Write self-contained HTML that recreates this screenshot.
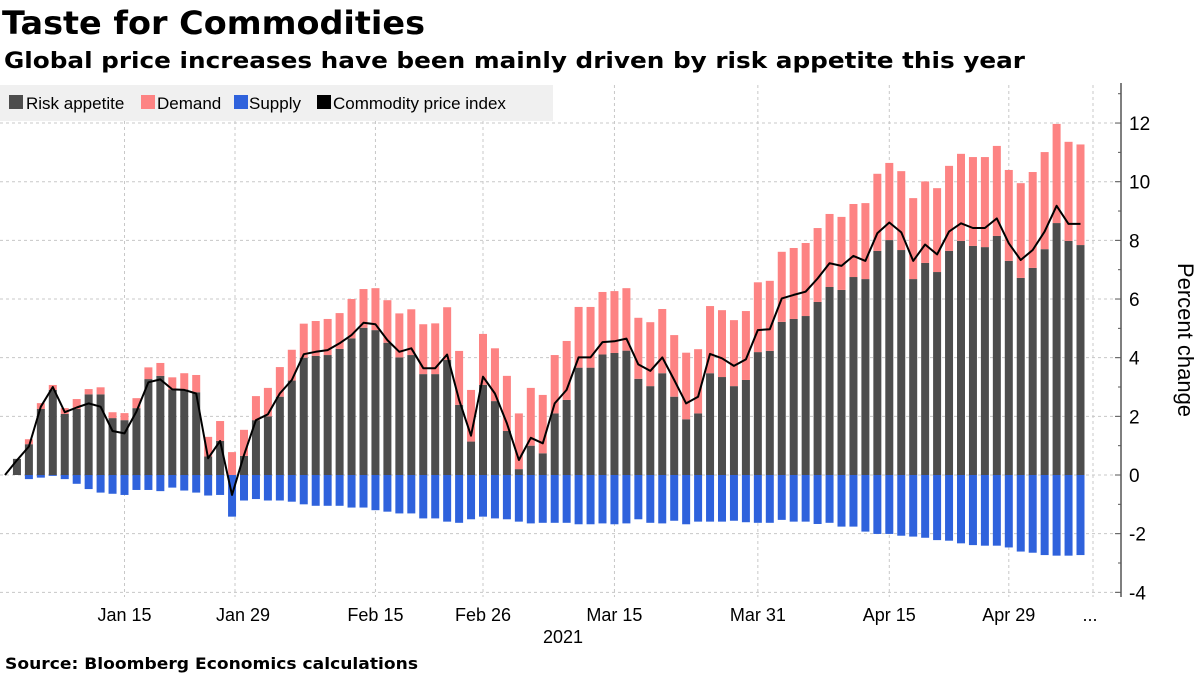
<!DOCTYPE html>
<html><head><meta charset="utf-8"><style>
html,body{margin:0;padding:0;background:#fff;width:1200px;height:675px;overflow:hidden}
svg{display:block}
</style></head><body>
<svg id="chart" width="1200" height="675" xmlns="http://www.w3.org/2000/svg">
<text x="2" y="34" font-family="DejaVu Sans, sans-serif" font-weight="bold" font-size="32" textLength="423" lengthAdjust="spacingAndGlyphs">Taste for Commodities</text>
<text x="4" y="68" font-family="DejaVu Sans, sans-serif" font-weight="bold" font-size="22" textLength="1021" lengthAdjust="spacingAndGlyphs">Global price increases have been mainly driven by risk appetite this year</text>
<g id="grid"></g>
<g id="bars"></g>
<g id="line"></g>
<g id="axes"></g>
<g>
<rect x="0" y="85" width="553" height="36" fill="#f0f0f0"/>
<g><rect x="9" y="95" width="14" height="14" fill="#4d4d4d"/><text x="26" y="109" font-family="Liberation Sans, sans-serif" font-size="17">Risk appetite</text></g>
<g><rect x="141" y="95" width="14" height="14" fill="#fd8383"/><text x="157" y="109" font-family="Liberation Sans, sans-serif" font-size="17">Demand</text></g>
<g><rect x="234" y="95" width="14" height="14" fill="#2f62dc"/><text x="249" y="109" font-family="Liberation Sans, sans-serif" font-size="17">Supply</text></g>
<g><rect x="317" y="95" width="14" height="14" fill="#000"/><text x="333" y="109" font-family="Liberation Sans, sans-serif" font-size="17">Commodity price index</text></g>
</g>
<text x="1178" y="340" font-family="Liberation Sans, sans-serif" font-size="22" transform="rotate(90 1178 340)" text-anchor="middle">Percent change</text>
<text x="5" y="669" font-family="DejaVu Sans, sans-serif" font-weight="bold" font-size="16" textLength="413" lengthAdjust="spacingAndGlyphs">Source: Bloomberg Economics calculations</text>
</svg>
<script>
const risk=[0,0.55,1.05,2.25,2.9,2.08,2.25,2.75,2.75,1.94,1.87,2.28,3.27,3.38,2.92,2.92,2.82,0.63,1.16,0,0.65,1.87,2.0,2.67,3.22,4.0,4.06,4.09,4.3,4.66,5.02,4.94,4.51,4.01,4.09,3.44,3.44,3.92,2.39,1.14,3.07,2.52,1.5,0.2,1.0,0.74,2.1,2.56,3.66,3.66,4.11,4.16,4.24,3.28,3.03,3.47,2.67,1.9,2.1,3.47,3.34,3.03,3.24,4.19,4.23,5.22,5.32,5.42,5.9,6.41,6.31,6.75,6.68,7.64,8.01,7.67,6.68,7.23,6.92,7.64,7.98,7.81,7.77,8.15,7.3,6.72,7.06,7.7,8.59,7.98,7.84];
const demand=[0,0,0.17,0.2,0.17,0.2,0.34,0.18,0.24,0.2,0.24,0.34,0.4,0.44,0.41,0.55,0.59,0.67,0.68,0.78,0.89,0.82,0.97,1.01,1.05,1.16,1.19,1.23,1.22,1.34,1.32,1.43,1.45,1.5,1.56,1.7,1.73,1.8,1.84,1.76,1.74,1.8,1.88,1.9,1.97,1.99,1.99,2.01,2.07,2.07,2.13,2.11,2.13,2.08,2.18,2.19,2.1,2.27,2.19,2.29,2.28,2.25,2.35,2.38,2.39,2.39,2.42,2.49,2.52,2.49,2.49,2.49,2.59,2.63,2.63,2.69,2.76,2.78,2.86,2.9,2.97,3.03,3.07,3.07,3.1,3.23,3.27,3.31,3.38,3.38,3.43];
const supply=[0,0,-0.14,-0.09,-0.03,-0.14,-0.3,-0.48,-0.6,-0.64,-0.68,-0.51,-0.51,-0.55,-0.43,-0.53,-0.6,-0.7,-0.68,-1.42,-0.87,-0.82,-0.87,-0.87,-0.91,-1.0,-1.05,-1.05,-1.05,-1.11,-1.11,-1.2,-1.25,-1.31,-1.31,-1.48,-1.48,-1.59,-1.63,-1.51,-1.42,-1.48,-1.51,-1.59,-1.65,-1.63,-1.63,-1.63,-1.68,-1.68,-1.65,-1.68,-1.65,-1.51,-1.63,-1.65,-1.56,-1.68,-1.59,-1.59,-1.59,-1.56,-1.61,-1.63,-1.63,-1.53,-1.59,-1.59,-1.67,-1.63,-1.76,-1.76,-1.93,-2.01,-2.01,-2.07,-2.1,-2.14,-2.22,-2.24,-2.33,-2.39,-2.41,-2.41,-2.47,-2.61,-2.65,-2.73,-2.75,-2.75,-2.73];
const priceIndex=[0,0.5,0.97,2.33,3.0,2.14,2.3,2.44,2.33,1.5,1.42,2.16,3.16,3.26,2.92,2.9,2.78,0.57,1.16,-0.68,0.68,1.87,2.07,2.78,3.24,4.12,4.2,4.26,4.49,4.77,5.19,5.14,4.6,4.2,4.32,3.64,3.64,4.11,2.56,1.34,3.35,2.78,1.76,0.51,1.27,1.08,2.44,2.9,4.01,4.01,4.53,4.56,4.65,3.77,3.55,4.01,3.24,2.44,2.67,4.13,3.98,3.72,3.94,4.94,4.97,6.02,6.14,6.25,6.7,7.22,7.13,7.47,7.3,8.24,8.61,8.27,7.3,7.86,7.52,8.3,8.58,8.42,8.42,8.75,7.9,7.33,7.67,8.3,9.18,8.56,8.56];
const yTicks=[-4,-2,0,2,4,6,8,10,12];
const xLabels=["Jan 15","Jan 29","Feb 15","Feb 26","Mar 15","Mar 31","Apr 15","Apr 29"];
const xLabelPos=[10,20,31,40,51,63,74,84];

const NS="http://www.w3.org/2000/svg";
const xS=i=>5+11.95*i;
const yS=v=>475-29.33*v;
function mk(tag,attrs,parent){const e=document.createElementNS(NS,tag);for(const k in attrs)e.setAttribute(k,attrs[k]);parent.appendChild(e);return e;}
const grid=document.getElementById('grid'),bars=document.getElementById('bars'),lineG=document.getElementById('line'),axes=document.getElementById('axes');

yTicks.forEach(t=>{
  const g=mk('line',{x1:0,x2:1121,y1:yS(t),y2:yS(t),stroke:'#c8c8c8','stroke-dasharray':'3,3','stroke-width':1},grid);
  
  
  const tk=mk('line',{x1:1115,x2:1121,y1:yS(t),y2:yS(t),stroke:'#555'},axes);
  
  
  const lb=mk('text',{x:1129,y:yS(t)+7,'font-family':'Liberation Sans, sans-serif','font-size':19,fill:'#000'},axes);
  lb.textContent=t;
  
  
});
for(let t=-4;t<=13;t++){if(t%2){const m=mk('line',{x1:1118,x2:1121,y1:yS(t),y2:yS(t),stroke:'#555'},axes);
  
  }}
const ax=mk('line',{x1:1121,x2:1121,y1:83,y2:597,stroke:'#555','stroke-width':1.5},axes);


xLabels.forEach((l,j)=>{
  const x=xS(xLabelPos[j])+(j===1?-9:0);
  const gl=mk('line',{x1:x,x2:x,y1:85,y2:597,stroke:'#c8c8c8','stroke-dasharray':'3,3'},grid);
  
  
  const t=mk('text',{x:x+(j===1?8:0),y:621,'text-anchor':'middle','font-family':'Liberation Sans, sans-serif','font-size':18},axes);
  t.textContent=l;
  
  
});
const gl2=mk('line',{x1:1093,x2:1093,y1:85,y2:597,stroke:'#c8c8c8','stroke-dasharray':'3,3'},grid);


const dots=mk('text',{x:1090,y:621,'text-anchor':'middle','font-family':'Liberation Sans, sans-serif','font-size':18},axes);
dots.textContent="...";


const yr=mk('text',{x:563,y:643,'text-anchor':'middle','font-family':'Liberation Sans, sans-serif','font-size':18},axes);
yr.textContent="2021";



risk.forEach((r,i)=>{
  const x=xS(i)-4;
  if(r>0){const b=mk('rect',{x:x,y:yS(r),width:8,height:yS(0)-yS(r),fill:'#4d4d4d'},bars);
    
    }
  const d=demand[i];
  if(d>0){const b=mk('rect',{x:x,y:yS(r+d),width:8,height:yS(r)-yS(r+d),fill:'#fd8383'},bars);
    
    }
  const s=supply[i];
  if(s<0){const b=mk('rect',{x:x,y:yS(0),width:8,height:yS(s)-yS(0),fill:'#2f62dc'},bars);
    
    }
});
const pts=priceIndex.map((v,i)=>xS(i).toFixed(1)+','+yS(v).toFixed(1)).join(' ');
const pl=mk('polyline',{points:pts,fill:'none',stroke:'#000','stroke-width':2,'stroke-linejoin':'round'},lineG);


</script>
</body></html>
